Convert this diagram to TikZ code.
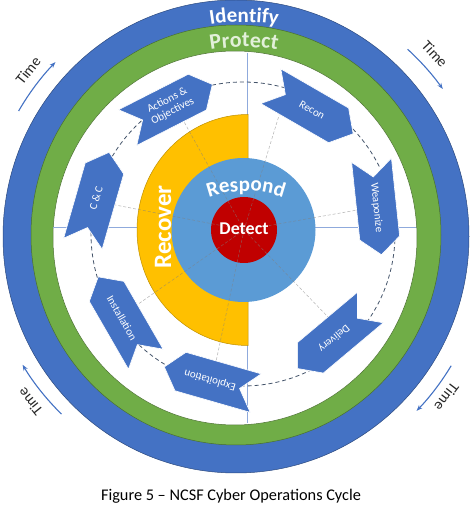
\documentclass[tikz,border=0pt]{standalone}
\usepackage{fontspec}
\setmainfont{Carlito}
\usetikzlibrary{shapes.symbols,decorations.text,calc,arrows.meta}
\definecolor{ringblue}{HTML}{4472C4}
\definecolor{ringgreen}{HTML}{70AD47}
\definecolor{gold}{HTML}{FFC000}
\definecolor{respblue}{HTML}{5B9BD5}
\definecolor{detred}{HTML}{C00000}
\definecolor{lineblue}{HTML}{8FAADC}
\definecolor{dashslate}{HTML}{44546A}
\definecolor{protecttxt}{HTML}{E2F0D9}
\definecolor{timetxt}{HTML}{262626}
\begin{document}
\begin{tikzpicture}[x=1pt,y=1pt,
  chev/.style={signal, signal to=east, signal from=west, signal pointer angle=100,
    fill=ringblue, draw=white, line width=0.6pt, minimum width=95pt, minimum height=40pt,
    inner sep=1pt, text=white, font=\fontsize{11}{12}\selectfont, align=center},
  chevrev/.style={chev, signal to=west, signal from=east},
  quadline/.style={lineblue, line width=0.7pt},
  spoke/.style={gray, dashed, dash pattern=on 3pt off 2pt, line width=0.5pt, opacity=0.6},
  cycledash/.style={dashslate, dash pattern=on 4pt off 3pt, line width=0.8pt},
  timearrow/.style={ringblue, line width=1.1pt, -{Stealth[length=6pt,width=4.5pt]}},
  timelabel/.style={text=timetxt, font=\fontsize{15}{15}\selectfont},
  bigwhite/.style={text=white, font=\bfseries}
]
\useasboundingbox (0,0) rectangle (474,515);
\fill[white] (0,0) rectangle (474,515);

% rings
\fill[ringblue, draw=ringblue!65!black, line width=0.5pt] (236,278.5) ellipse [x radius=233, y radius=236.5];
\fill[ringgreen, draw=ringgreen!65!black, line width=0.5pt] (236,280) ellipse [x radius=205, y radius=210];
\fill[white, draw=ringgreen!65!black, line width=0.5pt] (235,277) ellipse [x radius=182, y radius=187];

% quadrant lines
\coordinate (vtop) at (247,462);
\coordinate (vbot) at (247,92);
\coordinate (hl) at (53,288);
\coordinate (hr) at (416,288);
\draw[quadline] (vtop) -- (vbot);
\draw[quadline] (hl) -- (hr);

% recover half ring
\fill[gold, draw=gold!75!black, line width=0.5pt] (248,400.5) arc[start angle=90, end angle=270, x radius=111, y radius=115.5] -- cycle;

% respond / detect
\node[circle, fill=respblue, minimum size=144pt, inner sep=0pt] (respond) at (243.5,285) {};
\node[circle, fill=detred, minimum size=66pt, inner sep=0pt] (detect) at (244,285) {};

% spokes
\coordinate (C) at (244,285);
\foreach \a in {73,10,-46,-102,-145,169,119}{
  \draw[spoke] (C) -- ($(C)+(\a:150)$);
}

% cycle dashed ring
\coordinate (R) at (243,281);
\draw[cycledash] (R) circle[radius=152];

\node[bigwhite, font=\fontsize{18}{18}\selectfont\bfseries] (detecttext) at (244,286) {Detect};

% chevrons
\node[chev, rotate=-30] (recon) at (312,405) {Recon};
\node[chev, rotate=-84] (weap) at (376.5,307.5) {Weaponize};
\node[chev, rotate=-140] (deliv) at (334,177) {Delivery};
\node[chev, rotate=164] (expl) at (210,135) {Exploitation};
\node[chevrev, rotate=-60] (inst) at (122,197) {Installation};
\node[chev, rotate=74] (cc) at (96,317) {C \& C};
\node[chev, rotate=27] (act) at (170,409) {Actions \&\\Objectives};

% curved titles
\coordinate (A) at (244,280);
\path[decorate, decoration={text along path, text align=center,
  text={|\fontsize{21}{21}\selectfont\bfseries\color{white}|Identify}}]
  ($(A)+(125:213)$) arc[start angle=125, end angle=55, radius=213];
\path[decorate, decoration={text along path, text align=center,
  text={|\fontsize{22}{22}\selectfont\bfseries\color{protecttxt}|Protect}}]
  ($(A)+(125:188)$) arc[start angle=125, end angle=55, radius=188];
\coordinate (B) at (246,214);
\path[decorate, decoration={text along path, text align=center,
  text={|\fontsize{21}{21}\selectfont\bfseries\color{white}|Respond}}]
  ($(B)+(115:110)$) arc[start angle=115, end angle=65, radius=110];

\node[bigwhite, rotate=90, font=\fontsize{25}{25}\selectfont\bfseries] (recover) at (163,288) {Recover};

% time arrows
\coordinate (T) at (236,278.5);
\draw[timearrow] ($(T)+(150:251)$) arc[start angle=150, end angle=136, radius=251];
\draw[timearrow] ($(T)+(47.5:254)$) arc[start angle=47.5, end angle=35.5, radius=254];
\draw[timearrow] ($(T)+(-31:251)$) arc[start angle=-31, end angle=-44, radius=251];
\draw[timearrow] ($(T)+(225.5:249)$) arc[start angle=225.5, end angle=211, radius=249];
\node[timelabel, rotate=51.4] (time1) at ($(T)+(141.4:266)$) {Time};
\node[timelabel, rotate=-47.4] (time2) at ($(T)+(42.6:270)$) {Time};
\node[timelabel, rotate=-127.3] (time3) at ($(T)+(-37.3:265)$) {Time};
\node[timelabel, rotate=128.8] (time4) at ($(T)+(218.8:264)$) {Time};

% caption
\node[anchor=base, font=\fontsize{16.3}{16.3}\selectfont, text=black] (caption) at (231,15) {Figure 5 – NCSF Cyber Operations Cycle};
\end{tikzpicture}
\end{document}
